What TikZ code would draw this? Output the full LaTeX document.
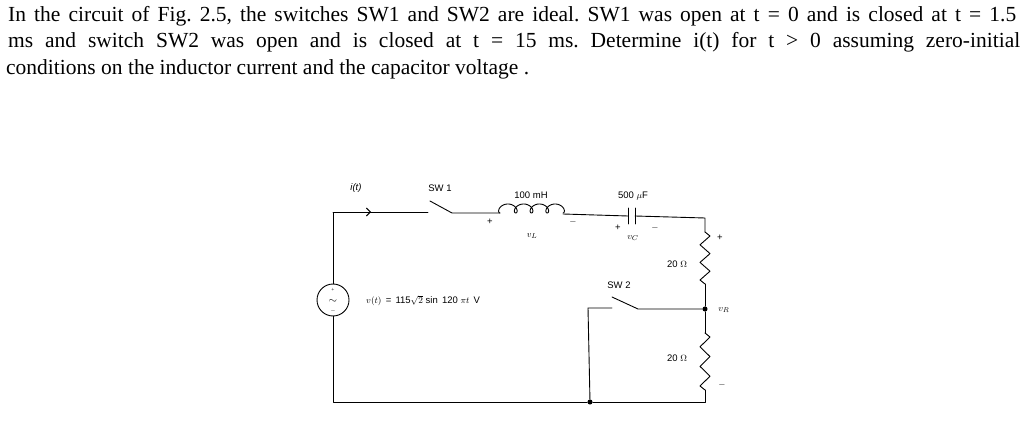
\documentclass[tikz,border=0pt]{standalone}
\usepackage{fontspec}
\setmainfont{Liberation Serif}
\newfontfamily\lbl{Liberation Sans}
\usetikzlibrary{arrows.meta, calc, positioning}
\tikzset{
  wire/.style = {line width=0.9pt, line cap=round, line join=round},
  lab/.style = {font=\lbl\fontsize{9.5}{10}\selectfont, inner sep=0pt},
  dot/.style = {circle, fill=black, inner sep=1.8pt},
  txtline/.style = {anchor=base west, inner sep=0pt, font=\frenchspacing\fontsize{21.5}{24}\selectfont},
}
\begin{document}
\begin{tikzpicture}[x=1pt, y=-1pt]
    \useasboundingbox (0,0) rectangle (1024,430);
    \node[txtline] (q1) at (8,22) {\makebox[1008pt][s]{In the circuit of Fig. 2.5, the switches SW1 and SW2 are ideal. SW1 was open at t = 0 and is closed at t = 1.5}};
    \node[txtline] (q2) at (8,48) {\makebox[1012pt][s]{ms and switch SW2 was open and is closed at t = 15 ms. Determine i(t) for t > 0 assuming zero-initial}};
    \node[txtline] (q3) at (6,75) {conditions on the inductor current and the capacitor voltage .};
    % corners and terminals
    \coordinate (TL) at (333,212);
    \coordinate (BL) at (333,402);
    \coordinate (S1a) at (428,212);
    \coordinate (S1b) at (452,213);
    \coordinate (La) at (500,213);
    \coordinate (Lb) at (563,214);
    \coordinate (Ca) at (628,216);
    \coordinate (Cb) at (635,216);
    \coordinate (TR) at (705,218);
    \coordinate (Ra) at (705,232);
    \coordinate (Rb) at (705,284);
    \node[dot] (M) at (705,309) {};
    \coordinate (Rc) at (705,333);
    \coordinate (Rd) at (705,390);
    \coordinate (BR) at (705,402);
    \coordinate (S2a) at (638,309);
    \coordinate (S2b) at (612,308);
    \coordinate (S2c) at (588,308);
    \node[dot] (G) at (590,402) {};
    \node[circle, draw, line width=0.9pt, minimum size=32pt, inner sep=0pt] (src) at (333,300) {};
    % wires
    \draw[wire] (src.north) -- (TL) -- (S1a);
    \draw[wire, -{Straight Barb[length=4pt]}] (TL) -- ++(38,0);
    \draw[wire] (S1a) ++(2,-11) -- (S1b) -- (La);
    \draw[wire] plot[domain=0:1440, samples=200, smooth]
      ({500 + 0.04375*\x - 4.6*sin(\x)}, {213 - 4.5*(1-cos(\x))});
    \draw[wire] (Lb) -- (Ca);
    \draw[wire] (Ca) ++(0,-8) -- ++(0,16);
    \draw[wire] (Cb) ++(0,-8) -- ++(0,16);
    \draw[wire] (Cb) -- (TR) -- (Ra);
    \draw[wire] (Ra) -- ++(5,4) \foreach \k in {1,2}{ -- ++(-10,8.8) -- ++(10,8.8) } -- ++(-10,8.8) -- (Rb);
    \draw[wire] (Rb) -- (M) -- (Rc);
    \draw[wire] (Rc) -- ++(5,4) \foreach \k in {1,2}{ -- ++(-10,9.8) -- ++(10,9.8) } -- ++(-10,9.8) -- (Rd);
    \draw[wire] (Rd) -- (BR) -- (G) -- (BL) -- (src.south);
    \draw[wire] (M) -- (S2a) -- ++(-26,-12);
    \draw[wire] (S2b) -- (S2c) -- (G);
    % source symbol
    \node[font=\fontsize{11}{11}\selectfont, inner sep=0pt] at (333,301) {$\sim$};
    \node[lab, font=\fontsize{5.5}{6}\selectfont] at (333,290) {+};
    \node[lab, font=\fontsize{5.5}{6}\selectfont] at (333,311) {$-$};
    % labels
    \node[lab] (il) at (356,188) {\itshape i(t)};
    \node[lab] (sw1) at (440,188) {SW 1};
    \node[lab] (ind) at (531,195) {100 mH};
    \node[lab] (cap) at (633,196) {500 $\mu$F};
    \node[lab] at (490,222) {+};
    \node[lab] at (573,222) {$-$};
    \node[lab] at (532,236) {$v_L$};
    \node[lab] at (618,228) {+};
    \node[lab] at (655,228) {$-$};
    \node[lab] at (633,238) {$v_C$};
    \node[lab] at (720,238) {+};
    \node[lab] at (724,310) {$v_R$};
    \node[lab] at (722,385) {$-$};
    \node[lab] at (677,264) {20 $\Omega$};
    \node[lab] at (677,358) {20 $\Omega$};
    \node[lab] at (619,285) {SW 2};
    \node[lab, anchor=west] at (366,301) {$v(t)$ \,=\, 115$\sqrt{2}$ sin \,120 $\pi t$ \,V};
\end{tikzpicture}
\end{document}
